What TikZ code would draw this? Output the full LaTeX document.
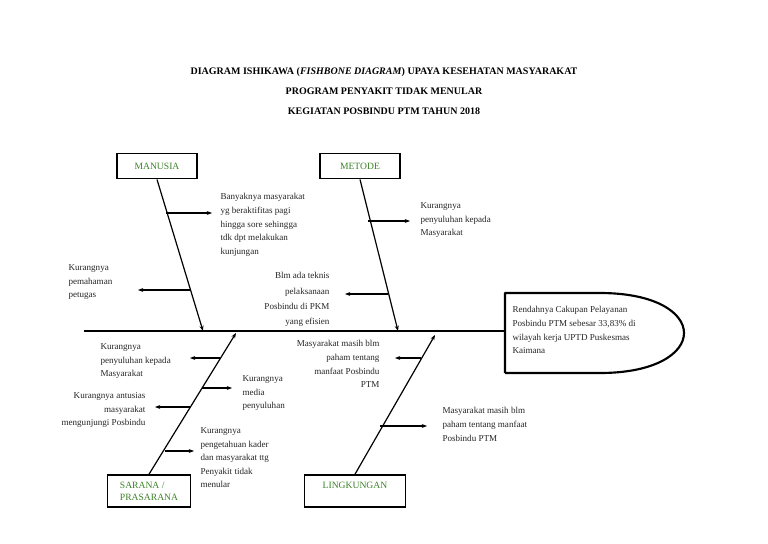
\documentclass[tikz,border=0pt]{standalone}
\usepackage{fontspec}
\setmainfont{Liberation Serif}
\usetikzlibrary{arrows.meta}
\definecolor{catgreen}{RGB}{60,130,40}
\begin{document}
\begin{tikzpicture}[x=0.75pt,y=-0.75pt,thick,
        cat/.style = {draw, line width=1.2pt, minimum width=60pt, minimum height=19pt,
            inner sep=1pt, text=catgreen, font=\fontsize{7.2}{9}\selectfont, align=left},
        txt/.style = {inner sep=0pt, font=\fontsize{6.8}{10.2}\selectfont, text=black!85},
        bone/.style = {line width=0.9pt, -{Stealth[length=4pt,width=3pt]}},
        twig/.style = {line width=0.9pt, -{Stealth[length=4pt,width=3pt]}},
        title/.style = {font=\bfseries\fontsize{7.5}{9}\selectfont}]
    \useasboundingbox (0,0) rectangle (768,543);

    % Title
    \node[title] (t1) at (384,72) {DIAGRAM ISHIKAWA (\textit{FISHBONE DIAGRAM}) UPAYA KESEHATAN MASYARAKAT};
    \node[title] (t2) at (384,91) {PROGRAM PENYAKIT TIDAK MENULAR};
    \node[title] (t3) at (384,111) {KEGIATAN POSBINDU PTM TAHUN 2018};

    % Head (effect)
    \coordinate (hb) at (505,373);
    \coordinate (ht) at (505,293);
    \draw[line width=1.6pt, line join=round] (hb) -- (ht) -- ++(95,0)
        .. controls ++(112,0) and ++(112,0) .. ++(0,80) -- (hb);
    \node[txt, anchor=north west, align=left] (effect) at (512,306)
        {Rendahnya Cakupan Pelayanan\\Posbindu PTM sebesar 33,83\% di\\wilayah kerja UPTD Puskesmas\\Kaimana};

    % Spine
    \coordinate (tail) at (84,331);
    \coordinate (head) at (505,331);
    \draw[line width=0.9pt] (tail) -- (head);

    % Categories
    \node[cat] (manusia) at (157,166) {MANUSIA};
    \node[cat] (metode) at (360,166) {METODE};
    \node[cat, minimum width=62pt, minimum height=24pt] (sarana) at (149,491) {SARANA /\\PRASARANA};
    \node[cat, minimum width=76pt, minimum height=24pt, text depth=8pt] (lingk) at (355,491) {LINGKUNGAN};

    \coordinate (m1) at (203,331);
    \coordinate (m2) at (398,331);
    \coordinate (m3) at (236,333);
    \coordinate (m4) at (435,335);
    \draw[bone] (manusia.south) -- (m1);
    \draw[bone] (metode.south) -- (m2);
    \draw[bone] (sarana.north) -- (m3);
    \draw[bone] (lingk.north) -- (m4);

    % Manusia
    \coordinate (a1) at (166,213);
    \coordinate (a2) at (190,290);
    \node[txt, anchor=north west, align=left] (man1) at (220,193)
        {Banyaknya masyarakat\\yg beraktifitas pagi\\hingga sore sehingga\\tdk dpt melakukan\\kunjungan};
    \node[txt, anchor=north west, align=left] (man2) at (68,264)
        {Kurangnya\\pemahaman\\petugas};
    \draw[twig] (a1) -- (212,213);
    \draw[twig] (a2) -- (138,290);

    % Metode
    \coordinate (b1) at (368,221);
    \coordinate (b2) at (388,294);
    \node[txt, anchor=north west, align=left] (met1) at (420,202)
        {Kurangnya\\penyuluhan kepada\\Masyarakat};
    \node[txt, anchor=north east, align=right, font=\fontsize{6.8}{11.5}\selectfont] (met2) at (330,272)
        {Blm ada teknis\\pelaksanaan\\Posbindu di PKM\\yang efisien};
    \draw[twig] (b1) -- (410,221);
    \draw[twig] (b2) -- (345,294);

    % Sarana / Prasarana
    \coordinate (c1) at (220,358);
    \coordinate (c2) at (202,388);
    \coordinate (c3) at (190,407);
    \coordinate (c4) at (165,451);
    \node[txt, anchor=north west, align=left] (sar1) at (100,343)
        {Kurangnya\\penyuluhan kepada\\Masyarakat};
    \node[txt, anchor=north west, align=left] (sar2) at (242,375)
        {Kurangnya\\media\\penyuluhan};
    \node[txt, anchor=north east, align=right] (sar3) at (146,392)
        {Kurangnya antusias\\masyarakat\\mengunjungi Posbindu};
    \node[txt, anchor=north west, align=left] (sar4) at (200,427)
        {Kurangnya\\pengetahuan kader\\dan masyarakat ttg\\Penyakit tidak\\menular};
    \draw[twig] (c1) -- (190,358);
    \draw[twig] (c2) -- (232,388);
    \draw[twig] (c3) -- (155,407);
    \draw[twig] (c4) -- (194,451);

    % Lingkungan
    \coordinate (d1) at (421,358);
    \coordinate (d2) at (380,426);
    \node[txt, anchor=north east, align=right] (lin1) at (380,340)
        {Masyarakat masih blm\\paham tentang\\manfaat Posbindu\\PTM};
    \node[txt, anchor=north west, align=left] (lin2) at (442,407)
        {Masyarakat masih blm\\paham tentang manfaat\\Posbindu PTM};
    \draw[twig] (d1) -- (395,358);
    \draw[twig] (d2) -- (427,426);
\end{tikzpicture}
\end{document}
